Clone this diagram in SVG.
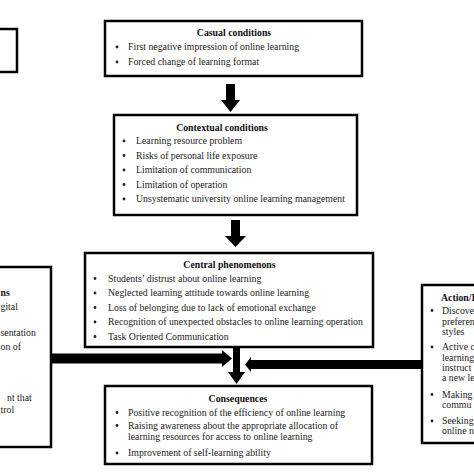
<svg xmlns="http://www.w3.org/2000/svg" width="474" height="474" viewBox="0 0 474 474">
<style>
.box{fill:#fff;stroke:#000;stroke-width:2.5}
.t{font-family:"Liberation Serif","Times New Roman",serif;font-size:9.8px;font-weight:bold;fill:#111;text-anchor:middle}
.i{font-family:"Liberation Serif","Times New Roman",serif;font-size:9.8px;fill:#222}
.b{fill:#222}
.arr{fill:#000}
</style>
<rect width="474" height="474" fill="#fff"/>
<g id="node-topleft">
<rect class="box" x="-10" y="29" width="27" height="43"/>
</g>
<g id="node-casual">
<rect class="box" x="105" y="21" width="257" height="55"/>
<text class="t" x="234" y="35.5">Casual conditions</text>
<circle class="b" cx="117" cy="47" r="1.4"/><text class="i" x="128" y="50">First negative impression of online learning</text>
<circle class="b" cx="117" cy="62" r="1.4"/><text class="i" x="128" y="65">Forced change of learning format</text>
</g>
<g id="node-contextual">
<rect class="box" x="114" y="115" width="243" height="100"/>
<text class="t" x="222" y="130.5">Contextual conditions</text>
<circle class="b" cx="124" cy="141" r="1.4"/><text class="i" x="136" y="144">Learning resource problem</text>
<circle class="b" cx="124" cy="155.5" r="1.4"/><text class="i" x="136" y="158.5">Risks of personal life exposure</text>
<circle class="b" cx="124" cy="170" r="1.4"/><text class="i" x="136" y="173">Limitation of communication</text>
<circle class="b" cx="124" cy="184.5" r="1.4"/><text class="i" x="136" y="187.5">Limitation of operation</text>
<circle class="b" cx="124" cy="199" r="1.4"/><text class="i" x="136" y="202">Unsystematic university online learning management</text>
</g>
<g id="node-central">
<rect class="box" x="85" y="253" width="288" height="94"/>
<text class="t" x="229.5" y="267.5">Central phenomenons</text>
<circle class="b" cx="95" cy="278.5" r="1.4"/><text class="i" x="108" y="281.5">Students’ distrust about online learning</text>
<circle class="b" cx="95" cy="293" r="1.4"/><text class="i" x="108" y="296">Neglected learning attitude towards online learning</text>
<circle class="b" cx="95" cy="307.5" r="1.4"/><text class="i" x="108" y="310.5">Loss of belonging due to lack of emotional exchange</text>
<circle class="b" cx="95" cy="322" r="1.4"/><text class="i" x="108" y="325">Recognition of unexpected obstacles to online learning operation</text>
<circle class="b" cx="95" cy="336.5" r="1.4"/><text class="i" x="108" y="339.5">Task Oriented Communication</text>
</g>
<g id="node-consequences">
<rect class="box" x="105" y="386" width="267" height="78"/>
<text class="t" x="238" y="401.5">Consequences</text>
<circle class="b" cx="117" cy="412.5" r="1.4"/><text class="i" x="128" y="415.5">Positive recognition of the efficiency of online learning</text>
<circle class="b" cx="117" cy="425.5" r="1.4"/><text class="i" x="128" y="428.5">Raising awareness about the appropriate allocation of</text>
<text class="i" x="128" y="440">learning resources for access to online learning</text>
<circle class="b" cx="117" cy="453" r="1.4"/><text class="i" x="128" y="456">Improvement of self-learning ability</text>
</g>
<g id="node-intervening">
<rect class="box" x="-10" y="267" width="61" height="180"/>
<text class="t" x="0.5" y="296" style="text-anchor:start">ns</text>
<text class="i" x="0.5" y="310">gital</text>
<text class="i" x="0.5" y="336">sentation</text>
<text class="i" x="0.5" y="350">on of</text>
<text class="i" x="7" y="401">nt that</text>
<text class="i" x="0.5" y="413">trol</text>
</g>
<g id="node-action">
<rect class="box" x="422" y="285" width="62" height="158"/>
<text class="t" x="441" y="300.5" style="text-anchor:start">Action/I</text>
<circle class="b" cx="432" cy="310.5" r="1.4"/><text class="i" x="442" y="313.5">Discove</text>
<text class="i" x="442" y="324.5">preferen</text>
<text class="i" x="442" y="335">styles</text>
<circle class="b" cx="432" cy="347" r="1.4"/><text class="i" x="442" y="350">Active c</text>
<text class="i" x="442" y="361">learning</text>
<text class="i" x="442" y="371">instruct</text>
<text class="i" x="442" y="381">a new le</text>
<circle class="b" cx="432" cy="394.5" r="1.4"/><text class="i" x="442" y="397.5">Making</text>
<text class="i" x="442" y="407.5">commu</text>
<circle class="b" cx="432" cy="421" r="1.4"/><text class="i" x="442" y="424">Seeking</text>
<text class="i" x="442" y="434">online n</text>
</g>
<g id="connectors">
<polygon class="arr" points="226,84 235,84 235,100 240,100 230.5,112 221,100 226,100"/>
<polygon class="arr" points="231,220 240,220 240,236 246,236 235.5,247 225,236 231,236"/>
<polygon class="arr" points="233,347 240,347 240,372 245,372 236.5,384 228,372 233,372"/>
<polygon class="arr" points="51,353.5 222,353.5 222,350 232,358.5 222,367 222,363.5 51,363.5"/>
<polygon class="arr" points="422,360 251,360 251,357 245,364.5 251,372 251,369 422,369"/>
</g>
</svg>
